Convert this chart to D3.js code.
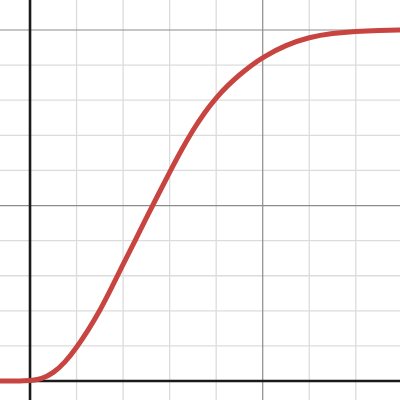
<!DOCTYPE html>
<html>
<head>
<meta charset="utf-8">
<script src="https://cdn.jsdelivr.net/npm/d3@7"></script>
<style>
  body { margin: 0; background: #fff; }
</style>
</head>
<body>
<script>
// values
const xs = [-0.2, 0, 0.05, 0.1, 0.15, 0.2, 0.25, 0.3, 0.35, 0.4, 0.45, 0.5, 0.55, 0.6, 0.65, 0.7, 0.75, 0.8, 0.85, 0.9, 0.95, 1.0, 1.1, 1.2, 1.3, 1.4, 1.5, 1.6];
const ys = [0, 0, 0.012, 0.045, 0.105, 0.19, 0.29, 0.40, 0.53, 0.665, 0.795, 0.93, 1.06, 1.19, 1.315, 1.43, 1.53, 1.615, 1.685, 1.745, 1.798, 1.845, 1.915, 1.96, 1.982, 1.993, 1.998, 2.0];

const width = 400, height = 400;

const x = d3.scaleLinear().domain([-0.129, 1.59]).range([0, width]);
const y = d3.scaleLinear().domain([-0.108, 2.171]).range([height, 0]);

const svg = d3.select("body").append("svg")
    .attr("width", width)
    .attr("height", height);

const xt = x.ticks(10), yt = y.ticks(10);
const isMajor = v => Math.abs(v - Math.round(v)) < 1e-6;

// minor grid
svg.append("g")
    .attr("stroke", "#dcdcdc")
    .attr("stroke-width", 1.3)
  .selectAll("line")
  .data(xt.filter(v => !isMajor(v)))
  .join("line")
    .attr("x1", d => x(d)).attr("x2", d => x(d))
    .attr("y1", 0).attr("y2", height);

svg.append("g")
    .attr("stroke", "#dcdcdc")
    .attr("stroke-width", 1.3)
  .selectAll("line")
  .data(yt.filter(v => !isMajor(v)))
  .join("line")
    .attr("y1", d => y(d)).attr("y2", d => y(d))
    .attr("x1", 0).attr("x2", width);

// major grid
svg.append("g")
    .attr("stroke", "#8c8c8c")
    .attr("stroke-width", 1.2)
  .selectAll("line")
  .data(xt.filter(v => isMajor(v) && v !== 0))
  .join("line")
    .attr("x1", d => x(d)).attr("x2", d => x(d))
    .attr("y1", 0).attr("y2", height);

svg.append("g")
    .attr("stroke", "#8c8c8c")
    .attr("stroke-width", 1.2)
  .selectAll("line")
  .data(yt.filter(v => isMajor(v) && v !== 0))
  .join("line")
    .attr("y1", d => y(d)).attr("y2", d => y(d))
    .attr("x1", 0).attr("x2", width);

// axes
svg.append("line")
    .attr("x1", x(0)).attr("x2", x(0))
    .attr("y1", 0).attr("y2", height)
    .attr("stroke", "#1a1a1a").attr("stroke-width", 2.6);

svg.append("line")
    .attr("x1", 0).attr("x2", width)
    .attr("y1", y(0)).attr("y2", y(0))
    .attr("stroke", "#1a1a1a").attr("stroke-width", 2.6);

// curve
const line = d3.line()
    .x((d, i) => x(xs[i]))
    .y(d => y(d))
    .curve(d3.curveBasis);

svg.append("path")
    .datum(ys)
    .attr("fill", "none")
    .attr("stroke", "#c74440")
    .attr("stroke-width", 5)
    .attr("stroke-linecap", "round")
    .attr("stroke-linejoin", "round")
    .attr("d", line);
</script>
</body>
</html>
